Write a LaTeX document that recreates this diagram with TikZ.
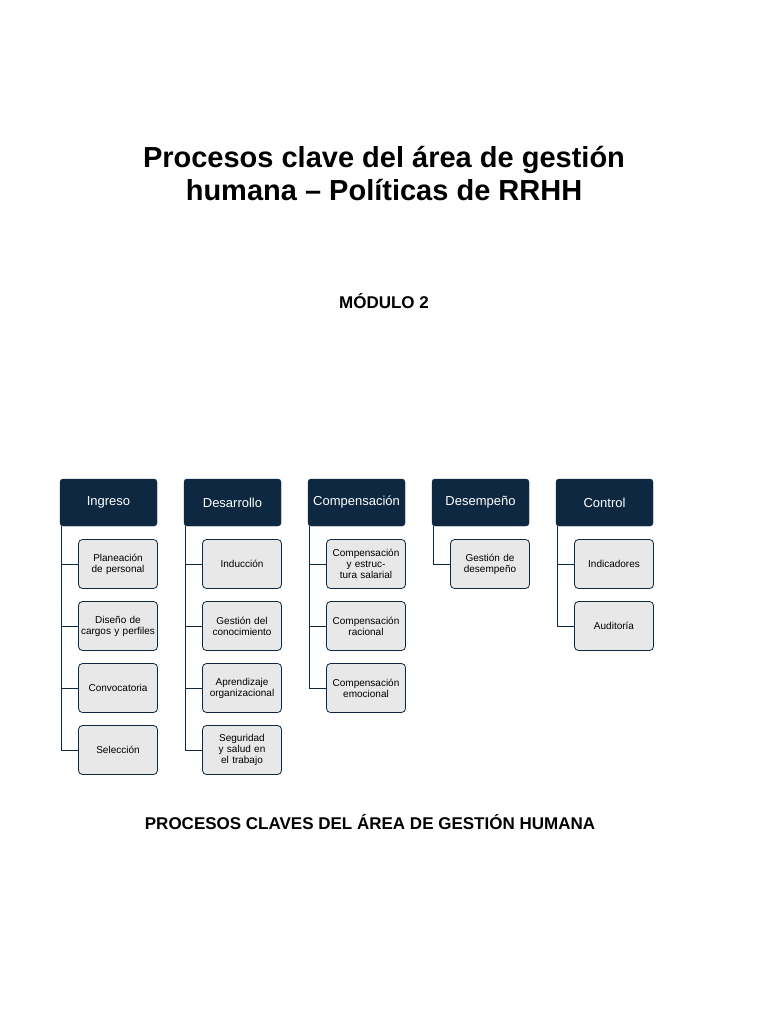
\documentclass[tikz,border=0pt]{standalone}
\usepackage{fontspec}
\setmainfont{Liberation Sans}
\begin{document}
\begin{tikzpicture}[x=1pt,y=-1pt,
  hdr/.style={draw=navy,fill=navy,rounded corners=3pt,minimum width=97pt,minimum height=47pt,text=white,font=\fontsize{13}{15}\selectfont,inner sep=1pt},
  leaf/.style={draw=navy,fill=leafg,rounded corners=4pt,minimum width=79pt,minimum height=49pt,text width=75pt,align=center,font=\fontsize{10}{11}\selectfont,inner sep=1pt,line width=0.8pt},
  conn/.style={draw=navy,line width=0.8pt}]
\definecolor{navy}{HTML}{0E2841}
\definecolor{leafg}{HTML}{E8E8E8}
\useasboundingbox (0,0) rectangle (768,1024);
\node[font=\bfseries\fontsize{29}{33}\selectfont,align=center] (title) at (384,174) {Procesos clave del área de gestión\\humana – Políticas de RRHH};
\node[font=\bfseries\fontsize{17}{20}\selectfont] (mod) at (384,301) {MÓDULO 2};
\node[font=\bfseries\fontsize{17}{20}\selectfont] (foot) at (370,822) {PROCESOS CLAVES DEL ÁREA DE GESTIÓN HUMANA};
\foreach \i/\t/\xx in {1/Ingreso/108.5,2/Desarrollo/232.5,3/Compensación/356.5,4/Desempeño/480.5,5/Control/604.5}
  \node[hdr] (h\i) at (\xx,502.5) {\t};
\def\leafs#1#2#3{%
  \foreach \t [count=\j] in {#3} {
    \node[leaf] (l#1\j) at (#2+126,502+62*\j) {\t};
    \draw[conn] (#2+69,526) |- (l#1\j.west);
  }}
\leafs{1}{-8}{{Planeación de personal},{Diseño de cargos y perfiles},Convocatoria,Selección}
\leafs{2}{116}{Inducción,{Gestión del conocimiento},{Aprendizaje organizacional},{Seguridad y salud en el trabajo}}
\leafs{3}{240}{{Compensación y estructura salarial},{Compensación racional},{Compensación emocional}}
\leafs{4}{364}{{Gestión de desempeño}}
\leafs{5}{488}{Indicadores,Auditoría}
\end{tikzpicture}
\end{document}
